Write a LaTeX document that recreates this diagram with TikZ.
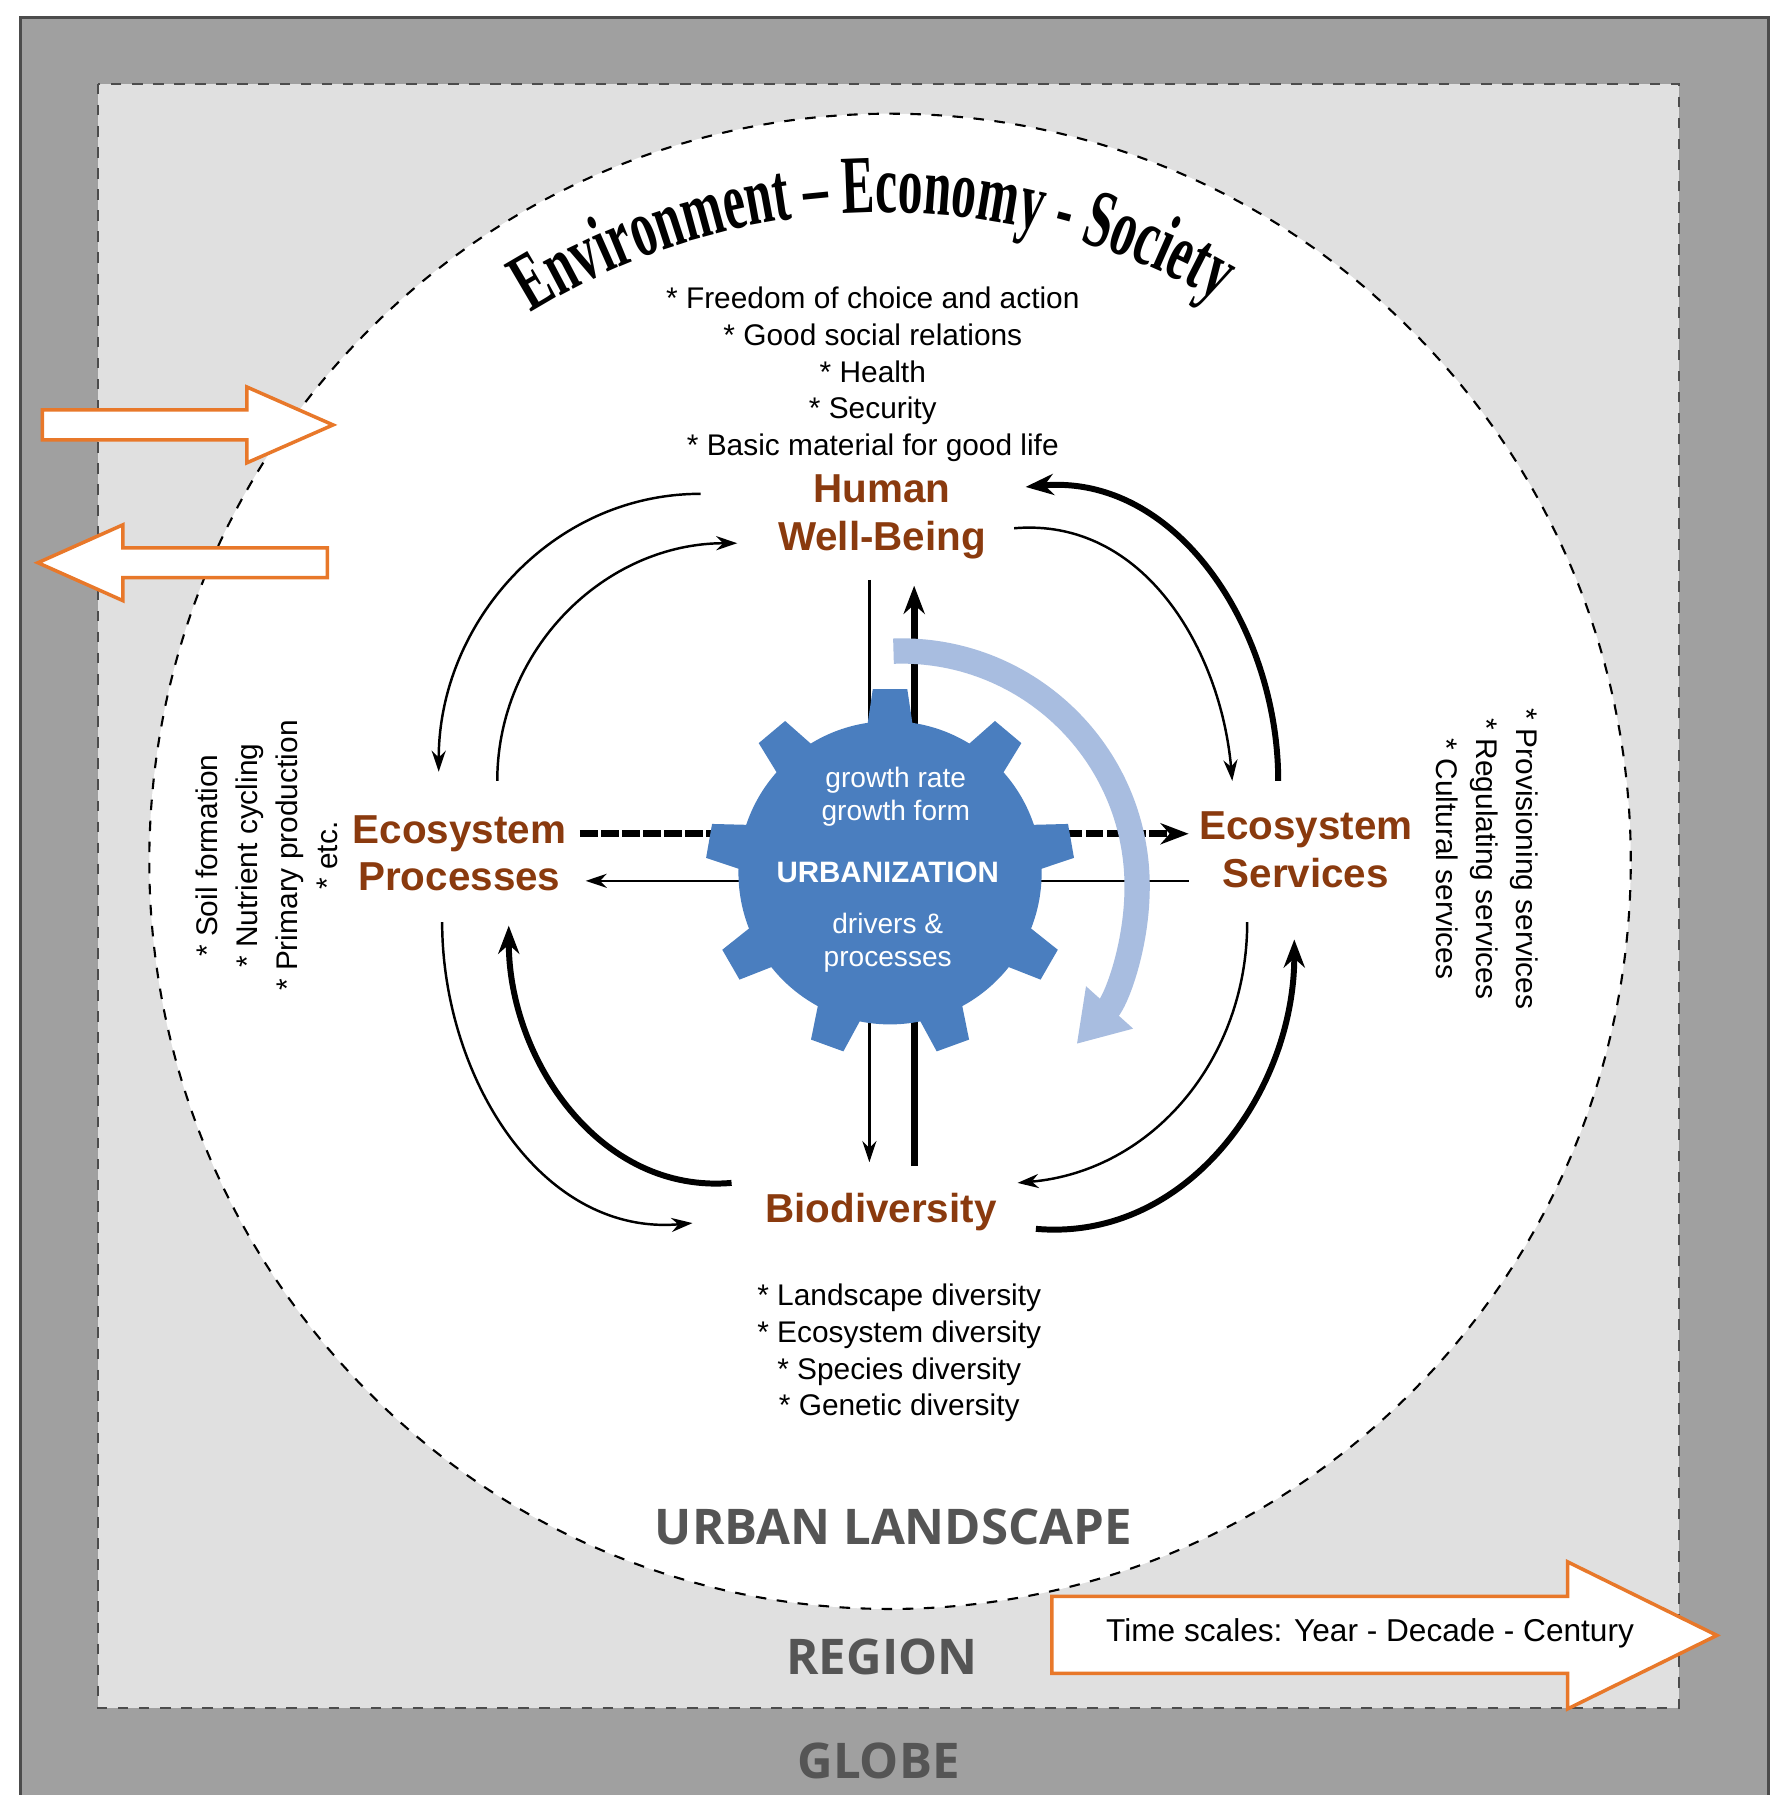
\documentclass[tikz,border=0pt]{standalone}
\usepackage{fontspec}
\setmainfont{Liberation Sans}
\newfontfamily\titlefont[FakeStretch=0.6]{Liberation Serif}
\newfontfamily\labfont{Open Sans}
\usetikzlibrary{arrows.meta,decorations.text}
\definecolor{dgray}{HTML}{A0A0A0}
\definecolor{lgray}{HTML}{E0E0E0}
\definecolor{brn}{HTML}{8A3A0E}
\definecolor{gearc}{HTML}{4A7EBF}
\definecolor{lblue}{HTML}{A8BDE0}
\definecolor{orng}{HTML}{E8782A}
\definecolor{lab}{HTML}{555555}
\tikzset{
  lst/.style={font=\fontsize{8.5}{10.5}\selectfont,align=center,inner sep=0},
  key/.style={font=\fontsize{11.5}{13.5}\selectfont\bfseries,text=brn,align=center,inner sep=0},
  geartxt/.style={font=\fontsize{8}{9.5}\selectfont,text=white,align=center,inner sep=0},
  thin/.style={line width=0.7pt,-{Stealth[length=6pt,width=4pt]}},
  thick/.style={line width=1.7pt,-{Stealth[length=8pt,width=6pt]}},
  big/.style={font=\labfont\fontsize{14}{16}\selectfont\bfseries,text=lab,inner sep=0},
  oarrow/.style={draw=orng,fill=white,line width=1pt,line join=miter},
}
\begin{document}
\begin{tikzpicture}[x=0.011487cm,y=0.011487cm]
\useasboundingbox (0,0) rectangle (1560,-1563);
\fill[white] (0,0) rectangle (1560,-1563);
\draw[fill=dgray,draw=black!70,line width=0.8pt] (18,-15) rectangle (1540,-1570);
\draw[fill=lgray,dashed,draw=black!70,line width=0.6pt] (85,-73) rectangle (1462,-1487);
\draw[fill=white,dashed,line width=0.6pt] (775,-750) ellipse [x radius=645,y radius=651];
% title
\path[decorate,decoration={text along path,text align=center,
  text={|\titlefont\bfseries\fontsize{23.5}{24}\selectfont|Environment – Economy - Society}}]
  (770,-770) ++(124:585) arc[start angle=124,end angle=58,radius=585];
% lists
\node[lst] (top) at (760,-326) {* Freedom of choice and action\\* Good social relations\\* Health\\* Security\\* Basic material for good life};
\node[lst] (bot) at (783,-1178) {* Landscape diversity\\* Ecosystem diversity\\* Species diversity\\* Genetic diversity};
\node[lst,rotate=90,font=\fontsize{8.5}{11.4}\selectfont] (left) at (232,-745) {* Soil formation\\* Nutrient cycling\\* Primary production\\* etc.};
\node[lst,rotate=-90,font=\fontsize{8.5}{11.4}\selectfont] (right) at (1295,-748) {* Provisioning services\\* Regulating services\\* Cultural services};
% key labels
\node[key] (hwb) at (768,-450) {Human\\Well-Being};
\node[key] (ep) at (400,-743) {Ecosystem\\Processes};
\node[key] (es) at (1137,-740) {Ecosystem\\Services};
\node[key] (bd) at (767,-1055) {Biodiversity};
% cross lines
\draw[thin] (757,-505) -- (757,-1012);
\draw[thick,line width=2pt] (796,-1015) -- (796,-510);
\draw[thick,dash pattern=on 5pt off 1pt,line width=2pt] (505,-726) -- (1035,-726);
\draw[thin] (1035,-767) -- (510,-767);
% gear
\begin{scope}[shift={(775,-760)}]
\fill[gearc] (0,0) circle (132);
\foreach \a in {90,50,10,-30,-70,-110,-150,170,130}
  \fill[gearc,rotate=\a] (120,-21) -- (160,-15) -- (160,15) -- (120,21) -- cycle;
\end{scope}
\node[geartxt] (g1) at (780,-694) {growth rate\\growth form};
\node[geartxt,font=\fontsize{8.4}{10}\selectfont\bfseries] (g2) at (773,-760) {URBANIZATION};
\node[geartxt] (g3) at (773,-821) {drivers \&\\processes};
% blue arc
\draw[lblue,line width=7.2pt,-{Triangle[length=14pt,width=17pt]}] (778,-567) arc[start angle=92,end angle=-42,radius=205];
% curved arrows
\draw[thin] (610,-430) to[out=180,in=90] (382,-672);
\draw[thin] (433,-680) to[out=90,in=180] (642,-473);
\draw[thin] (883,-460) to[out=5,in=95] (1073,-680);
\draw[thick] (1113,-680) to[out=90,in=5] (893,-424);
\draw[thin] (385,-803) to[out=-90,in=185] (603,-1065);
\draw[thick] (637,-1030) to[out=185,in=-90] (443,-806);
\draw[thin] (1086,-803) to[out=-90,in=5] (886,-1030);
\draw[thick] (902,-1070) to[out=-5,in=-90] (1127,-818);
% orange arrows
\draw[oarrow] (37,-357) -- (215,-357) -- (215,-337) -- (290,-370) -- (215,-403) -- (215,-383) -- (37,-383) -- cycle;
\draw[oarrow] (285,-477) -- (107,-477) -- (107,-457) -- (33,-490) -- (107,-523) -- (107,-503) -- (285,-503) -- cycle;
\draw[oarrow] (916,-1390) -- (1365,-1390) -- (1365,-1360) -- (1495,-1424) -- (1365,-1488) -- (1365,-1457) -- (916,-1457) -- cycle;
\node[lst,font=\fontsize{9}{11}\selectfont] (ts) at (1193,-1422) {Time scales: Year - Decade - Century};
% scale labels
\node[big] (ul) at (778,-1330) {URBAN LANDSCAPE};
\node[big] (rg) at (768,-1443) {REGION};
\node[big] (gl) at (765,-1533) {GLOBE};
\end{tikzpicture}
\end{document}
